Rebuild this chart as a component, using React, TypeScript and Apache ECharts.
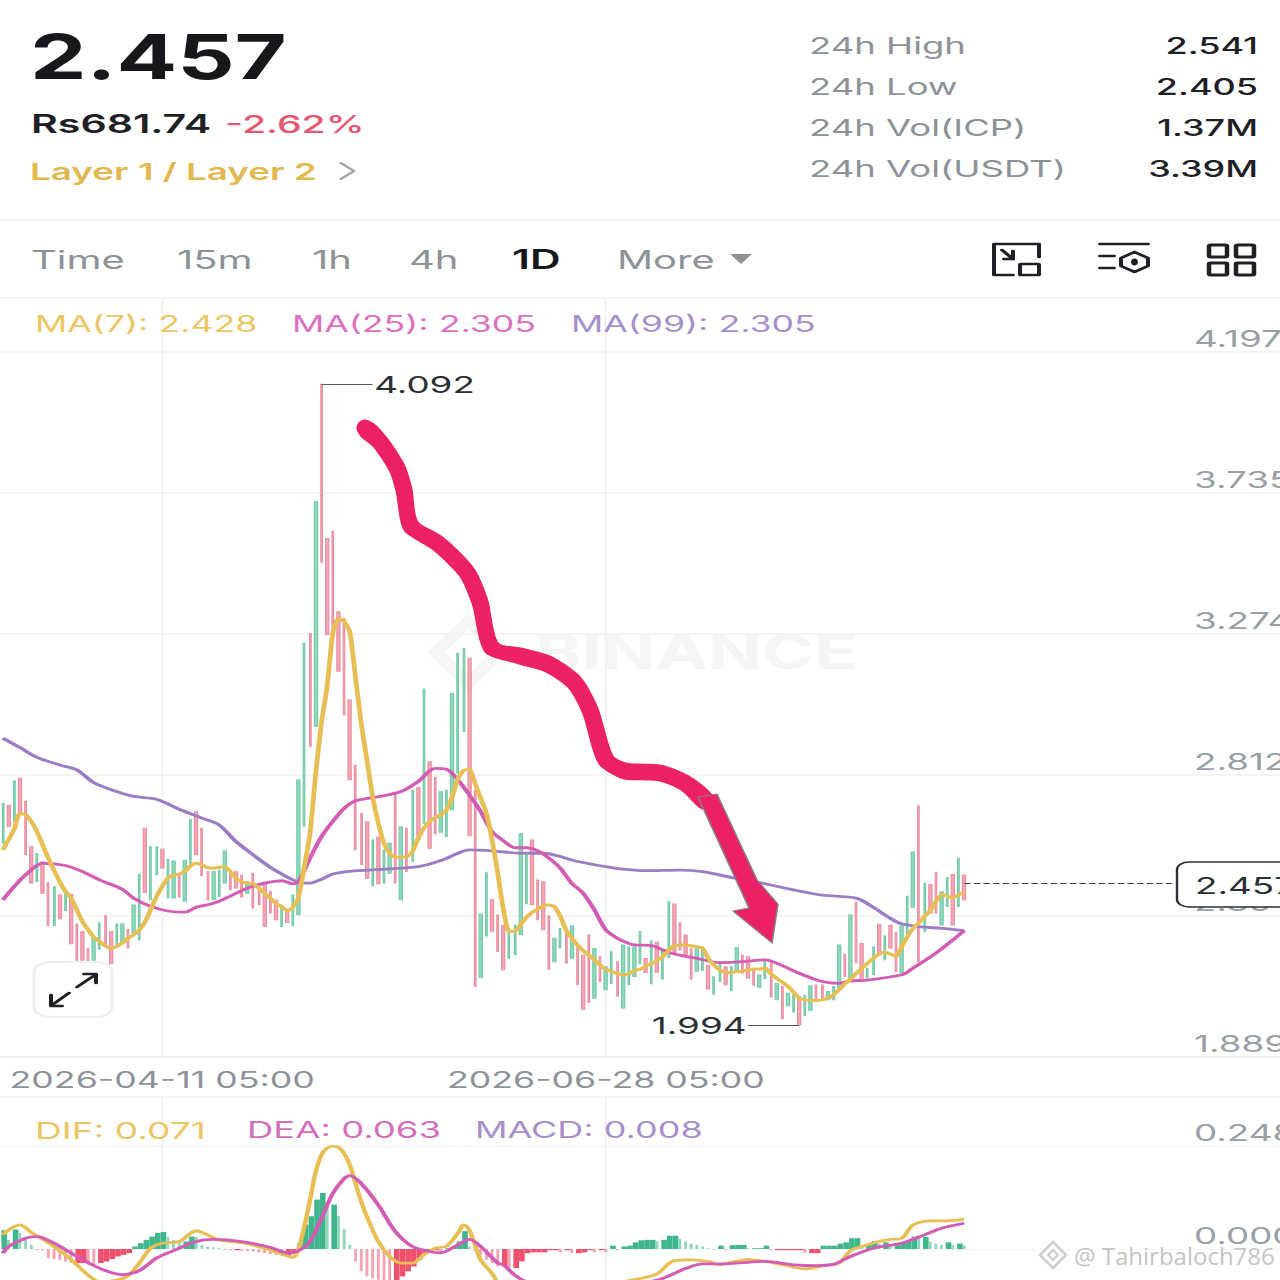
import React, { useEffect, useRef } from "react";
import * as echarts from "echarts";

const highs = [
  2.72,2.714,2.793,2.802,2.727,2.578,2.556,2.529,2.46,2.447,
  2.42,2.425,2.422,2.325,2.3,2.245,2.278,2.329,2.352,2.3,
  2.325,2.325,2.307,2.387,2.488,2.638,2.578,2.578,2.57,2.536,
  2.531,2.485,2.534,2.667,2.692,2.638,2.496,2.496,2.502,2.565,
  2.496,2.496,2.485,2.463,2.491,2.442,2.46,2.431,2.403,2.381,
  2.371,2.42,2.796,3.244,3.276,3.707,4.092,3.587,3.611,3.347,
  3.325,3.058,2.845,2.687,2.66,2.6,2.61,2.567,2.589,2.752,
  2.643,2.638,2.763,2.772,3.094,2.856,2.805,2.758,2.763,3.08,
  3.211,3.227,3.195,2.763,2.357,2.493,2.405,2.354,2.321,2.3,
  2.321,2.621,2.55,2.6,2.469,2.463,2.351,2.278,2.31,2.3,
  2.318,2.25,2.223,2.289,2.245,2.218,2.185,2.234,2.201,2.256,
  2.25,2.25,2.3,2.212,2.269,2.265,2.24,2.398,2.39,2.329,
  2.289,2.245,2.245,2.25,2.19,2.152,2.201,2.185,2.185,2.247,
  2.223,2.218,2.174,2.158,2.201,2.201,2.13,2.12,2.098,2.092,
  2.087,2.092,2.123,2.125,2.125,2.103,2.12,2.256,2.226,2.354,
  2.396,2.261,2.18,2.25,2.324,2.286,2.321,2.296,2.318,2.416,
  2.561,2.712,2.458,2.454,2.494,2.431,2.477,2.487,2.54,2.485,
];
const lows = [
  2.589,2.643,2.66,2.682,2.551,2.458,2.463,2.425,2.319,2.319,
  2.341,2.368,2.259,2.205,2.205,2.169,2.205,2.242,2.251,2.194,
  2.251,2.262,2.245,2.294,2.272,2.427,2.403,2.485,2.507,2.409,
  2.409,2.412,2.398,2.523,2.551,2.482,2.403,2.403,2.414,2.458,
  2.436,2.442,2.412,2.425,2.376,2.387,2.316,2.36,2.338,2.316,
  2.329,2.319,2.354,2.645,2.905,2.971,3.508,3.271,3.276,3.151,
  3.009,2.796,2.567,2.518,2.474,2.449,2.456,2.458,2.49,2.458,
  2.403,2.496,2.529,2.6,2.654,2.572,2.619,2.624,2.61,2.698,
  2.818,2.954,2.613,2.12,2.149,2.285,2.3,2.234,2.174,2.212,
  2.223,2.289,2.39,2.387,2.338,2.305,2.176,2.2,2.245,2.196,
  2.212,2.125,2.045,2.067,2.081,2.136,2.109,2.13,2.087,2.049,
  2.125,2.152,2.194,2.165,2.128,2.166,2.144,2.214,2.231,2.24,
  2.223,2.144,2.169,2.172,2.111,2.094,2.136,2.125,2.105,2.169,
  2.163,2.147,2.123,2.117,2.145,2.085,2.076,2.014,2.056,2.036,
  1.994,2.024,2.041,2.076,2.076,2.076,2.076,2.114,2.152,2.136,
  2.198,2.136,2.147,2.158,2.223,2.207,2.245,2.169,2.165,2.283,
  2.379,2.201,2.3,2.36,2.36,2.321,2.381,2.321,2.381,2.403,
];
const rising = [
  1,0,1,0,0,0,1,0,0,1, 0,1,0,0,0,0,1,1,0,0, 1,1,0,1,1,0,1,1,0,1, 1,0,1,1,0,0,0,1,1,1,
  0,0,0,1,0,0,0,0,0,1, 0,1,1,1,0,1,0,0,0,0, 0,0,0,0,0,1,0,1,1,0, 1,0,1,0,1,0,0,1,1,1,
  1,1,0,0,1,1,0,0,0,1, 1,1,1,0,0,0,0,1,1,0, 1,0,0,0,1,0,1,1,0,1, 1,1,1,0,1,0,1,1,0,0,
  0,0,1,1,0,1,1,0,1,1, 0,0,0,1,1,0,1,0,1,1, 0,1,1,0,0,1,1,1,0,1, 0,0,1,1,0,1,0,0,1,1,
  1,0,1,0,0,1,1,0,1,0,
];
const ma7 = [
  2.567,2.6,2.635,2.687,2.682,2.66,2.627,2.583,2.54,2.5,
  2.463,2.431,2.409,2.371,2.332,2.305,2.281,2.267,2.253,2.245,
  2.251,2.262,2.278,2.289,2.305,2.332,2.371,2.414,2.447,2.474,
  2.485,2.488,2.496,2.515,2.523,2.518,2.509,2.507,2.51,2.512,
  2.496,2.474,2.463,2.458,2.456,2.442,2.425,2.409,2.392,2.381,
  2.368,2.379,2.414,2.512,2.621,2.818,2.982,3.102,3.276,3.325,
  3.315,3.28,3.13,2.981,2.861,2.741,2.654,2.589,2.556,2.543,
  2.543,2.545,2.561,2.605,2.638,2.66,2.671,2.682,2.698,2.741,
  2.801,2.827,2.831,2.785,2.736,2.687,2.6,2.49,2.371,2.3,
  2.3,2.321,2.346,2.362,2.373,2.385,2.387,2.381,2.349,2.305,
  2.278,2.256,2.237,2.223,2.207,2.19,2.176,2.169,2.163,2.158,
  2.161,2.172,2.176,2.187,2.194,2.205,2.218,2.237,2.254,2.256,
  2.256,2.253,2.25,2.245,2.212,2.19,2.174,2.166,2.165,2.169,
  2.169,2.174,2.177,2.177,2.18,2.161,2.147,2.134,2.12,2.101,
  2.081,2.076,2.074,2.074,2.076,2.081,2.092,2.109,2.128,2.144,
  2.163,2.18,2.196,2.212,2.226,2.232,2.226,2.218,2.25,2.283,
  2.31,2.327,2.349,2.368,2.398,2.42,2.416,2.409,2.42,2.428,
];
const ma25 = [
  [0,2.403],[2,2.447],[4,2.485],[7,2.523],[11,2.516],[14,2.496],[17,2.469],[21,2.438],[23,2.409],[26,2.382],
  [29,2.367],[32,2.363],[34,2.379],[37,2.392],[40,2.416],[43,2.442],[46,2.458],[49,2.466],[51,2.456],[52,2.463],
  [54,2.54],[56,2.61],[58,2.66],[60,2.703],[62,2.728],[66,2.741],[70,2.758],[73,2.791],[76,2.834],[78,2.831],
  [80,2.796],[82,2.747],[84,2.692],[86,2.627],[88,2.597],[90,2.574],[92,2.574],[94,2.565],[96,2.54],[98,2.507],
  [100,2.458],[102,2.425],[104,2.37],[106,2.305],[108,2.278],[110,2.261],[111,2.256],[114,2.254],[116,2.24],[118,2.226],
  [122,2.212],[126,2.198],[130,2.201],[134,2.207],[137,2.188],[140,2.163],[144,2.136],[147,2.13],[149,2.138],[152,2.141],
  [158,2.158],[160,2.18],[164,2.229],[169,2.303],
];
const ma99 = [
  [0,2.933],[3,2.902],[6,2.87],[10,2.845],[13,2.829],[16,2.787],[20,2.758],[23,2.742],[27,2.733],[31,2.7],
  [35,2.671],[38,2.649],[41,2.594],[44,2.551],[47,2.51],[50,2.478],[52,2.461],[54,2.458],[56,2.471],[58,2.488],
  [61,2.497],[67,2.504],[73,2.512],[77,2.532],[80,2.556],[82,2.567],[86,2.564],[91,2.556],[95,2.556],[101,2.529],
  [107,2.509],[109,2.504],[113,2.499],[119,2.501],[123,2.496],[128,2.477],[133,2.46],[139,2.436],[144,2.419],[150,2.409],
  [153,2.379],[156,2.343],[158,2.325],[161,2.316],[165,2.31],[169,2.303],
];
const macdHist = [
  0.045,0.022,0.047,0.039,0.022,0.01,-0.002,-0.003,-0.022,-0.024,
  -0.026,-0.03,-0.034,-0.034,-0.034,-0.038,-0.04,-0.034,-0.03,-0.024,
  -0.018,-0.014,-0.01,0.006,0.014,0.022,0.03,0.039,0.041,0.029,
  0.022,0.018,0.018,0.03,0.029,0.01,0.006,0.004,0.002,-0.002,
  -0.003,-0.003,-0.004,-0.005,-0.006,-0.008,-0.01,-0.012,-0.014,-0.016,
  -0.016,-0.012,0.014,0.059,0.079,0.119,0.135,0.103,0.107,0.08,
  0.048,0.01,-0.03,-0.054,-0.066,-0.07,-0.074,-0.08,-0.09,-0.09,
  -0.066,-0.054,-0.042,-0.026,-0.011,-0.006,-0.003,-0.006,0.002,0.006,
  0.018,0.043,0.006,-0.006,-0.014,-0.026,-0.034,-0.042,-0.042,-0.046,
  -0.046,-0.03,-0.01,-0.008,-0.008,-0.008,-0.003,-0.003,-0.008,-0.003,
  -0.01,-0.01,-0.008,-0.003,-0.008,-0.003,-0.008,0.008,-0.003,0.006,
  0.008,0.016,0.021,0.022,0.022,0.018,0.022,0.032,0.032,0.024,
  0.018,0.013,0.01,0.006,0.002,-0.002,0.008,-0.002,0.009,0.01,
  0.01,0.002,0.002,0.002,0.008,-0.003,-0.003,-0.003,-0.003,-0.003,
  -0.003,-0.01,-0.01,-0.01,0.008,0.008,0.008,0.013,0.016,0.026,
  0.026,0.006,0.01,0.019,0.013,0.016,0.01,0.01,0.014,0.018,
  0.03,0.029,0.029,0.018,0.013,0.01,0.016,0.01,0.013,0.008,
];
const dif = [
  [0,0.034],[1,0.046],[3,0.058],[5,0.04],[8,0.015],[11,-0.014],[13,-0.038],[15,-0.063],[17,-0.079],[20,-0.075],
  [22,-0.065],[24,-0.034],[26,0.002],[28,0.014],[31,0.018],[33,0.038],[34,0.044],[36,0.034],[38,0.022],[42,0.015],
  [46,0.002],[49,-0.012],[51,-0.02],[52,0.002],[53,0.054],[54,0.118],[55,0.186],[56,0.227],[57,0.243],[58,0.248],
  [59,0.245],[60,0.23],[61,0.202],[62,0.158],[63,0.114],[64,0.078],[66,0.018],[68,-0.018],[70,-0.034],[72,-0.034],
  [74,-0.014],[76,0.002],[78,0.007],[80,0.038],[81,0.058],[82,0.046],[84,-0.026],[86,-0.059],[87,-0.079],[90,-0.11],
  [100,-0.1],[112,-0.071],[115,-0.06],[118,-0.028],[121,-0.026],[124,-0.03],[126,-0.038],[128,-0.032],[131,-0.025],[134,-0.03],
  [137,-0.038],[141,-0.048],[145,-0.038],[147,-0.034],[149,-0.004],[151,0.006],[154,0.018],[156,0.023],[158,0.026],[160,0.058],
  [163,0.068],[166,0.068],[169,0.072],
];
const dea = [
  [0,-0.01],[1,0.006],[4,0.026],[6,0.03],[9,0.014],[12,-0.01],[15,-0.033],[18,-0.052],[21,-0.062],[24,-0.052],
  [27,-0.022],[30,-0.004],[34,0.018],[37,0.023],[42,0.018],[47,0.004],[50,-0.009],[52,-0.004],[54,0.018],[56,0.074],
  [58,0.134],[60,0.17],[61,0.177],[63,0.158],[66,0.106],[69,0.042],[72,0.006],[75,-0.006],[77,-0.009],[80,0.01],
  [82,0.023],[84,0.006],[87,-0.034],[88,-0.038],[90,-0.063],[92,-0.079],[100,-0.11],[110,-0.09],[115,-0.075],[116,-0.071],
  [118,-0.059],[120,-0.047],[123,-0.036],[127,-0.036],[130,-0.033],[134,-0.03],[139,-0.038],[143,-0.04],[146,-0.037],[149,-0.018],
  [153,0.002],[158,0.014],[162,0.034],[165,0.05],[169,0.062],
];
const priceTicks = [1.889, 2.35, 2.812, 3.274, 3.735, 4.197];
const macdTicks = [0, 0.248];
const dateLabels: Record<number, string> = { 28: "2026-04-11 05:00", 106: "2026-06-28 05:00" };
const lastPrice = 2.457;
const periodHigh = 4.092;
const periodLow = 1.994;
const statRows = [
  ["24h High", "2.541"],
  ["24h Low", "2.405"],
  ["24h Vol(ICP)", "1.37M"],
  ["24h Vol(USDT)", "3.39M"],
];
const tabs: [string, number][] = [["Time", 31], ["15m", 177], ["1h", 312], ["4h", 409], ["1D", 512], ["More", 617]];

const K = 1.6;
const W = 800;
const FONT = "Inter";
const categories = Array.from({ length: 225 }, (_, i) => dateLabels[i] ?? String(i));
const candleData = highs.map((h, i) => (rising[i] ? [lows[i], h, lows[i], h] : [h, lows[i], lows[i], h]));
const showDate = (i: number) => i in dateLabels;
const isSolid = (i: number) => macdHist[i] >= (i ? macdHist[i - 1] : 0);
const histSolid = macdHist.map((v, i) => (isSolid(i) ? v : null));
const histLight = macdHist.map((v, i) => (isSolid(i) ? null : v));

function T(text: string, x: number, y: number, font: string, fill: string, extra: any = {}) {
  const { scaleX, align, z } = extra;
  return {
    type: "text", x: x / K, y, scaleX: scaleX ?? 1, z: z ?? 50, silent: true,
    style: { text, font, fill, textAlign: align ?? "left", textVerticalAlign: "middle" },
  };
}
function PL(pts: number[][], stroke: string, lineWidth: number) {
  return {
    type: "polyline", z: 50, silent: true,
    shape: { points: pts.map(([x, y]) => [x / K, y]) },
    style: { stroke, lineWidth, fill: "none", lineCap: "round", lineJoin: "round" },
  };
}
function RR(x: number, y: number, w: number, h: number, r: number, stroke: string, lineWidth: number, fill = "none", z = 50) {
  return {
    type: "rect", z, silent: true,
    shape: { x: x / K, y, width: w / K, height: h, r: [r / K] },
    style: { stroke, lineWidth, fill },
  };
}
function HL(y: number) {
  return { type: "line", z: 1, silent: true, shape: { x1: 0, y1: y, x2: W, y2: y }, style: { stroke: "#f1f1f1", lineWidth: 1.5 } };
}
function ribbon(pts: number[][], hw: number) {
  const l: number[][] = [];
  const r: number[][] = [];
  pts.forEach(([x, y], i) => {
    const a = pts[Math.max(i - 1, 0)];
    const b = pts[Math.min(i + 1, pts.length - 1)];
    const dx = b[0] - a[0];
    const dy = b[1] - a[1];
    const n = Math.hypot(dx, dy);
    const nx = -dy / n;
    const ny = dx / n;
    l.push([(x + nx * hw) / K, y + ny * hw]);
    r.unshift([(x - nx * hw) / K, y - ny * hw]);
  });
  return [...l, ...r];
}

const strokePath = [
  [365, 428], [380, 442], [397, 468], [404, 490], [411, 526], [436, 542], [452, 556], [468, 574],
  [480, 602], [492, 648], [520, 656], [548, 664], [574, 682], [590, 710], [606, 760], [625, 771],
  [660, 773], [685, 783], [708, 803],
];
const arrowHead = [[698, 797], [717, 794], [757, 880], [778, 904], [772, 943], [733, 911], [749, 908]];

const PINK = "#ec2066";
const graphicEls: any[] = [
  T("BINANCE", 535, 652, "bold 48px " + FONT, "#f5f5f5", { scaleX: 0.92, z: 0 }),
  { type: "polygon", z: 0, silent: true, shape: { points: [[436, 652], [468, 622], [500, 652], [468, 684]].map(([x, y]) => [x / K, y]) }, style: { stroke: "#f5f5f5", lineWidth: 9, fill: "none" } },
  HL(220), HL(298), HL(1097),
  T("2.457", 30, 56, "bold 62px " + FONT, "#16181d", { scaleX: 0.905 }),
  T("Rs681.74", 31, 124, "600 25.7px " + FONT, "#1e2026"),
  T("-2.62%", 225, 124, "500 24.5px " + FONT, "#e5566f"),
  T("Layer 1 / Layer 2", 30, 171, "600 23px " + FONT, "#e2b84f"),
  PL([[341, 163], [354, 171], [341, 179]], "#a6a6a6", 2),
  ...statRows.flatMap(([a, b], i) => [
    T(a, 809, 46 + i * 41, "400 22.8px " + FONT, "#8d9299"),
    T(b, 1258, 46 + i * 41, "500 22.5px " + FONT, "#1e2026", { align: "right" }),
  ]),
  ...tabs.map(([t, x]) => T(t, x, 260, (t === "1D" ? "600 " : "400 ") + (t === "1D" ? "26.5px " : "25px ") + FONT, t === "1D" ? "#16181d" : "#8d9299")),
  { type: "polygon", z: 50, silent: true, shape: { points: [[730, 254], [752, 254], [741, 264]].map(([x, y]) => [x / K, y]) }, style: { fill: "#8d9299" } },
  PL([[1039, 257], [1039, 244], [994, 244], [994, 275], [1013, 275]], "#1e2026", 2.5),
  RR(1020, 264, 19, 11, 1, "#1e2026", 2.5),
  PL([[1002, 250], [1013, 259]], "#1e2026", 2.5),
  PL([[1004, 259], [1013, 259], [1013, 251]], "#1e2026", 2.5),
  PL([[1100, 244], [1148, 244]], "#1e2026", 2.5),
  PL([[1100, 256], [1114, 256]], "#1e2026", 2.5),
  PL([[1100, 268], [1114, 268]], "#1e2026", 2.5),
  PL([[1134.5, 252], [1148, 258], [1148, 266], [1134.5, 272], [1121, 266], [1121, 258], [1134.5, 252]], "#1e2026", 2.5),
  { type: "ellipse", z: 50, silent: true, shape: { cx: 1134.5 / K, cy: 262, rx: 3.5 / K, ry: 3.5 }, style: { fill: "#1e2026" } },
  RR(1209, 245, 18, 12, 1.5, "#1e2026", 2.8),
  RR(1236, 245, 18, 12, 1.5, "#1e2026", 2.8),
  RR(1209, 263, 18, 12, 1.5, "#1e2026", 2.8),
  RR(1236, 263, 18, 12, 1.5, "#1e2026", 2.8),
  T("MA(7): 2.428", 35, 324, "400 22.3px " + FONT, "#ecc564"),
  T("MA(25): 2.305", 292, 324, "400 22.3px " + FONT, "#db6fc0"),
  T("MA(99): 2.305", 571, 324, "400 22.3px " + FONT, "#a78fcc"),
  T("DIF: 0.071", 35, 1130, "400 23.2px " + FONT, "#ecc564"),
  T("DEA: 0.063", 247, 1130, "400 22.8px " + FONT, "#d36fbb"),
  T("MACD: 0.008", 475, 1130, "400 22.5px " + FONT, "#a78fcc"),
  RR(34, 962, 78, 55, 16, "#efefef", 2, "#ffffff", 40),
  PL([[77, 987], [95, 975]], "#1e2026", 2.5),
  PL([[84, 974], [96, 974], [96, 983]], "#1e2026", 2.5),
  PL([[69, 993], [52, 1005]], "#1e2026", 2.5),
  PL([[51, 995], [51, 1006], [62, 1006]], "#1e2026", 2.5),
  RR(1177, 862, 130, 45, 12, "#2b2f36", 1.5, "#ffffff", 48),
  T(String(lastPrice), 1195, 885, "400 23px " + FONT, "#2b2f36"),
  { type: "polygon", z: 60, silent: true, shape: { points: ribbon(strokePath, 8.5), smooth: 0.25 }, style: { fill: PINK } },
  { type: "ellipse", z: 60, silent: true, shape: { cx: 365 / K, cy: 428, rx: 8.5 / K, ry: 8.5 }, style: { fill: PINK } },
  { type: "polygon", z: 61, silent: true, shape: { points: arrowHead.map(([x, y]) => [x / K, y]) }, style: { fill: PINK, stroke: "#8a7f84", lineWidth: 1 } },
  T("@ Tahirbaloch786", 1074, 1255, "400 24px 'Open Sans'", "#c4c4c4", { scaleX: 1 / K, z: 70 }),
  { type: "polygon", z: 70, silent: true, shape: { points: [[1040, 1255], [1053, 1242], [1066, 1255], [1053, 1268]].map(([x, y]) => [x / K, y]) }, style: { stroke: "#cfcfcf", lineWidth: 2, fill: "none" } },
  { type: "polygon", z: 70, silent: true, shape: { points: [[1048, 1255], [1053, 1250], [1058, 1255], [1053, 1260]].map(([x, y]) => [x / K, y]) }, style: { stroke: "#cfcfcf", lineWidth: 1.5, fill: "none" } },
];

const yLabel = (fmt: (v: number) => string) => ({
  inside: true, align: "left", verticalAlign: "bottom", margin: 86 / K, fontSize: 23, color: "#9a9ea5",
  fontFamily: FONT, formatter: fmt, showMinLabel: true, showMaxLabel: true, padding: [0, 0, 2, 0],
});

const option: any = {
  animation: false,
  backgroundColor: "#ffffff",
  textStyle: { fontFamily: FONT },
  graphic: { elements: graphicEls },
  grid: [
    { left: 0, right: 0, top: 298, height: 759, outerBoundsMode: "none" },
    { left: 0, right: 0, top: 1097, height: 183, outerBoundsMode: "none" },
  ],
  xAxis: [
    {
      type: "category", gridIndex: 0, data: categories, boundaryGap: true,
      axisLine: { lineStyle: { color: "#f1f1f1", width: 1.5 } }, axisTick: { show: false },
      axisLabel: { interval: (i: number) => showDate(i), fontSize: 22.3, color: "#8d9299", fontFamily: FONT, margin: 12, hideOverlap: false },
      splitLine: { show: true, interval: (i: number) => showDate(i), alignWithLabel: true, lineStyle: { color: "#f1f1f1", width: 1.2 } },
    },
    {
      type: "category", gridIndex: 1, data: categories, boundaryGap: true,
      axisLine: { show: false }, axisTick: { show: false }, axisLabel: { show: false },
      splitLine: { show: true, interval: (i: number) => showDate(i), alignWithLabel: true, lineStyle: { color: "#f1f1f1", width: 1.2 } },
    },
  ],
  yAxis: [
    {
      type: "value", gridIndex: 0, position: "right", min: 1.889, max: 4.3738, scale: true,
      axisLine: { show: false },
      axisTick: { show: false, customValues: priceTicks },
      axisLabel: { ...yLabel((v: number) => String(v)), customValues: priceTicks },
      splitLine: { show: true, lineStyle: { color: "#f1f1f1", width: 1.5 } },
    },
    {
      type: "value", gridIndex: 1, position: "right", min: -0.0747, max: 0.3663,
      axisLine: { show: false },
      axisTick: { show: false, customValues: macdTicks },
      axisLabel: { ...yLabel((v: number) => v.toFixed(3)), customValues: macdTicks },
      splitLine: { show: true, lineStyle: { color: "#f5f5f5", width: 1.2 } },
    },
  ],
  series: [
    {
      type: "candlestick", xAxisIndex: 0, yAxisIndex: 0, data: candleData, barWidth: 2, z: 3,
      itemStyle: { color: "#8ed8bb", color0: "#f3a6b4", borderColor: "#72c9a6", borderColor0: "#e98fa1", borderWidth: 0.7 },
      markLine: {
        silent: true, symbol: "none", animation: false,
        data: [
          [{ coord: [56, periodHigh], name: String(periodHigh) }, { coord: [65, periodHigh] }],
          [{ coord: [140, periodLow], name: String(periodLow) }, { coord: [131, periodLow] }],
          [{ coord: [169, lastPrice], lineStyle: { type: "dashed", color: "#3a3d44", width: 1 }, label: { show: false } }, { coord: [206, lastPrice] }],
        ],
        lineStyle: { type: "solid", color: "#555a60", width: 1.2 },
        label: { show: true, position: "end", formatter: "{b}", fontFamily: FONT, fontSize: 23, color: "#2b2f36", distance: 1 },
      },
    },
    { type: "line", xAxisIndex: 0, yAxisIndex: 0, data: ma99, symbol: "none", smooth: 0.3, z: 4, lineStyle: { color: "#9a7dc4", width: 2.8 } },
    { type: "line", xAxisIndex: 0, yAxisIndex: 0, data: ma25, symbol: "none", smooth: 0.3, z: 5, lineStyle: { color: "#d35db5", width: 2.8 } },
    { type: "line", xAxisIndex: 0, yAxisIndex: 0, data: ma7, symbol: "none", smooth: 0.2, z: 6, lineStyle: { color: "#e8bf55", width: 3 } },
    {
      type: "bar", xAxisIndex: 1, yAxisIndex: 1, data: histSolid, barWidth: 3.5, barGap: "-100%", z: 3,
      itemStyle: { color: (p: any) => (macdHist[p.dataIndex] >= 0 ? "#3fb68b" : "#f0506e") },
    },
    {
      type: "bar", xAxisIndex: 1, yAxisIndex: 1, data: histLight, barWidth: 1.8, barGap: "-100%", z: 3,
      itemStyle: { color: (p: any) => (macdHist[p.dataIndex] >= 0 ? "#8fd8bb" : "#f3a3b1") },
    },
    { type: "line", xAxisIndex: 1, yAxisIndex: 1, data: dif, symbol: "none", smooth: 0.3, z: 4, lineStyle: { color: "#e8bf55", width: 2.8 } },
    { type: "line", xAxisIndex: 1, yAxisIndex: 1, data: dea, symbol: "none", smooth: 0.3, z: 5, lineStyle: { color: "#d35db5", width: 2.8 } },
  ],
};

export default function App() {
  const ref = useRef<HTMLDivElement>(null);
  useEffect(() => {
    const chart = echarts.init(ref.current!, undefined, { renderer: "svg" });
    chart.setOption(option);
    return () => chart.dispose();
  }, []);
  return (
    <div style={{ position: "fixed", left: 0, top: 0, width: 1280, height: 1280, overflow: "hidden", background: "#fff" }}>
      <div ref={ref} style={{ width: W, height: 1280, transform: `scaleX(${K})`, transformOrigin: "0 0" }} />
    </div>
  );
}
